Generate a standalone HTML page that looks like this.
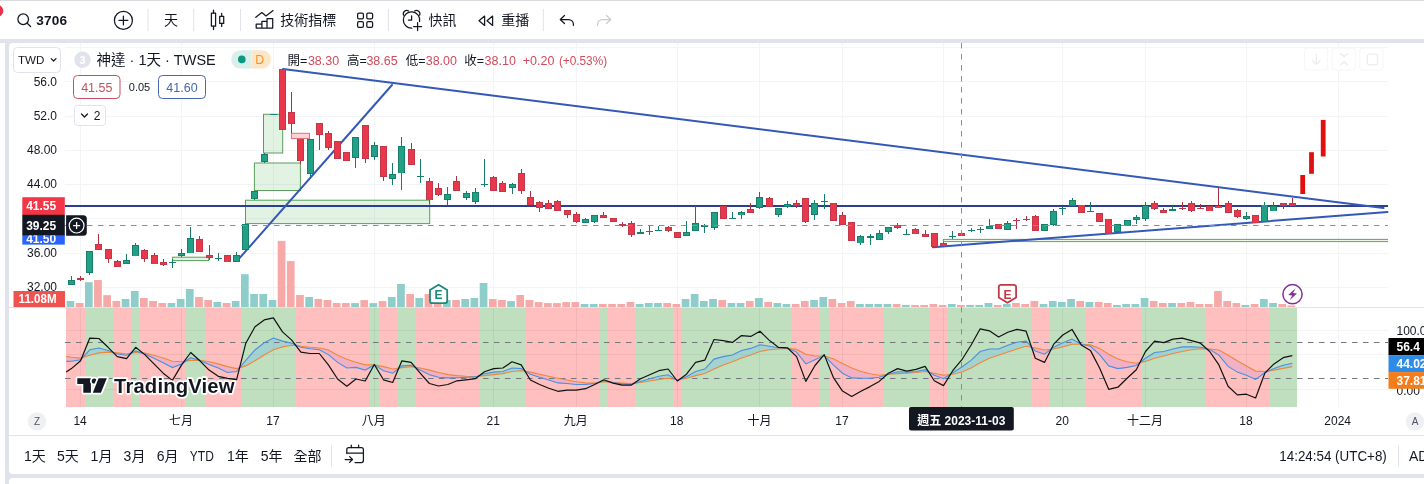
<!DOCTYPE html>
<html lang="zh-Hant"><head><meta charset="utf-8"><title>3706 神達 TradingView</title>
<style>
html,body{margin:0;padding:0;background:#fff;overflow:hidden}
svg{display:block}
text{font-family:"Liberation Sans","Noto Sans CJK TC",sans-serif;}
.ax{font-size:12px;fill:#131722}
.tb{font-size:14px;fill:#131722}
.ic{fill:none;stroke:#131722;stroke-width:1.25;stroke-linecap:round;stroke-linejoin:round}
</style></head><body>
<svg width="1424" height="484" viewBox="0 0 1424 484">
<rect x="0" y="0" width="1424" height="484" fill="#ffffff"/>
<rect x="0" y="0" width="1424" height="1" fill="#dadbde"/>
<rect x="0" y="39" width="1424" height="4" fill="#e0e3eb"/>
<rect x="5" y="43" width="4" height="441" fill="#e0e3eb"/>
<rect x="5" y="474" width="1419" height="4" fill="#e0e3eb"/>
<path d="M9 43h4a4 4 0 0 0-4 4z" fill="#e0e3eb"/>
<path d="M9 474h4a4 4 0 0 1-4-4z" fill="#e0e3eb"/>
<path d="M9 478h4a4 4 0 0 0-4 4z" fill="#e0e3eb"/>
<circle cx="-2.6" cy="10.9" r="5.9" fill="#e6324a"/>
<g stroke="#f3f4f6" stroke-width="1" shape-rendering="crispEdges">
<line x1="80.5" y1="43" x2="80.5" y2="407"/>
<line x1="181.5" y1="43" x2="181.5" y2="407"/>
<line x1="273.5" y1="43" x2="273.5" y2="407"/>
<line x1="374.5" y1="43" x2="374.5" y2="407"/>
<line x1="493.5" y1="43" x2="493.5" y2="407"/>
<line x1="576.5" y1="43" x2="576.5" y2="407"/>
<line x1="677.5" y1="43" x2="677.5" y2="407"/>
<line x1="759.5" y1="43" x2="759.5" y2="407"/>
<line x1="842.5" y1="43" x2="842.5" y2="407"/>
<line x1="943.5" y1="43" x2="943.5" y2="407"/>
<line x1="1062.5" y1="43" x2="1062.5" y2="407"/>
<line x1="1145.5" y1="43" x2="1145.5" y2="407"/>
<line x1="1246.5" y1="43" x2="1246.5" y2="407"/>
<line x1="1338.5" y1="43" x2="1338.5" y2="407"/>
<line x1="65" y1="47.5" x2="1388" y2="47.5"/>
<line x1="65" y1="81.5" x2="1388" y2="81.5"/>
<line x1="65" y1="116.5" x2="1388" y2="116.5"/>
<line x1="65" y1="150.5" x2="1388" y2="150.5"/>
<line x1="65" y1="184.5" x2="1388" y2="184.5"/>
<line x1="65" y1="218.5" x2="1388" y2="218.5"/>
<line x1="65" y1="253.5" x2="1388" y2="253.5"/>
<line x1="65" y1="287.5" x2="1388" y2="287.5"/>
<line x1="65" y1="330.5" x2="1388" y2="330.5"/>
<line x1="65" y1="354.5" x2="1388" y2="354.5"/>
<line x1="65" y1="389.5" x2="1388" y2="389.5"/>
</g>
<g shape-rendering="crispEdges">
<rect x="66.2" y="307.5" width="19.0" height="99.5" fill="#ffbfbf"/>
<rect x="85.2" y="307.5" width="27.5" height="99.5" fill="#bfdfbf"/>
<rect x="112.7" y="307.5" width="18.4" height="99.5" fill="#ffbfbf"/>
<rect x="131.1" y="307.5" width="9.2" height="99.5" fill="#bfdfbf"/>
<rect x="140.2" y="307.5" width="45.9" height="99.5" fill="#ffbfbf"/>
<rect x="186.2" y="307.5" width="18.4" height="99.5" fill="#bfdfbf"/>
<rect x="204.5" y="307.5" width="36.7" height="99.5" fill="#ffbfbf"/>
<rect x="241.2" y="307.5" width="55.1" height="99.5" fill="#bfdfbf"/>
<rect x="296.3" y="307.5" width="73.4" height="99.5" fill="#ffbfbf"/>
<rect x="369.8" y="307.5" width="9.2" height="99.5" fill="#bfdfbf"/>
<rect x="378.9" y="307.5" width="18.4" height="99.5" fill="#ffbfbf"/>
<rect x="397.3" y="307.5" width="18.4" height="99.5" fill="#bfdfbf"/>
<rect x="415.7" y="307.5" width="64.3" height="99.5" fill="#ffbfbf"/>
<rect x="479.9" y="307.5" width="45.9" height="99.5" fill="#bfdfbf"/>
<rect x="525.8" y="307.5" width="73.4" height="99.5" fill="#ffbfbf"/>
<rect x="599.2" y="307.5" width="9.2" height="99.5" fill="#bfdfbf"/>
<rect x="608.4" y="307.5" width="27.5" height="99.5" fill="#ffbfbf"/>
<rect x="636.0" y="307.5" width="36.7" height="99.5" fill="#bfdfbf"/>
<rect x="672.7" y="307.5" width="9.2" height="99.5" fill="#ffbfbf"/>
<rect x="681.9" y="307.5" width="110.2" height="99.5" fill="#bfdfbf"/>
<rect x="792.0" y="307.5" width="27.5" height="99.5" fill="#ffbfbf"/>
<rect x="819.6" y="307.5" width="9.2" height="99.5" fill="#bfdfbf"/>
<rect x="828.7" y="307.5" width="55.1" height="99.5" fill="#ffbfbf"/>
<rect x="883.8" y="307.5" width="45.9" height="99.5" fill="#bfdfbf"/>
<rect x="929.7" y="307.5" width="18.4" height="99.5" fill="#ffbfbf"/>
<rect x="948.1" y="307.5" width="82.6" height="99.5" fill="#bfdfbf"/>
<rect x="1030.7" y="307.5" width="18.4" height="99.5" fill="#ffbfbf"/>
<rect x="1049.1" y="307.5" width="36.7" height="99.5" fill="#bfdfbf"/>
<rect x="1085.8" y="307.5" width="55.1" height="99.5" fill="#ffbfbf"/>
<rect x="1140.9" y="307.5" width="64.3" height="99.5" fill="#bfdfbf"/>
<rect x="1205.1" y="307.5" width="64.3" height="99.5" fill="#ffbfbf"/>
<rect x="1269.4" y="307.5" width="27.5" height="99.5" fill="#bfdfbf"/>
</g>
<g stroke="#000" stroke-opacity="0.05" stroke-width="1" shape-rendering="crispEdges">
<line x1="80.5" y1="308" x2="80.5" y2="407"/>
<line x1="181.5" y1="308" x2="181.5" y2="407"/>
<line x1="273.5" y1="308" x2="273.5" y2="407"/>
<line x1="374.5" y1="308" x2="374.5" y2="407"/>
<line x1="493.5" y1="308" x2="493.5" y2="407"/>
<line x1="576.5" y1="308" x2="576.5" y2="407"/>
<line x1="677.5" y1="308" x2="677.5" y2="407"/>
<line x1="759.5" y1="308" x2="759.5" y2="407"/>
<line x1="842.5" y1="308" x2="842.5" y2="407"/>
<line x1="943.5" y1="308" x2="943.5" y2="407"/>
<line x1="1062.5" y1="308" x2="1062.5" y2="407"/>
<line x1="1145.5" y1="308" x2="1145.5" y2="407"/>
<line x1="1246.5" y1="308" x2="1246.5" y2="407"/>
<line x1="67" y1="330.5" x2="1297" y2="330.5"/>
<line x1="67" y1="354.5" x2="1297" y2="354.5"/>
<line x1="67" y1="389.5" x2="1297" y2="389.5"/>
</g>
<g>
<rect x="66.6" y="301.0" width="7.7" height="6.0" fill="#8fcdcb"/>
<rect x="75.8" y="303.0" width="7.7" height="4.0" fill="#f6a9a7"/>
<rect x="85.0" y="282.2" width="7.7" height="24.8" fill="#8fcdcb"/>
<rect x="94.1" y="280.0" width="7.7" height="27.0" fill="#f6a9a7"/>
<rect x="103.3" y="295.2" width="7.7" height="11.8" fill="#f6a9a7"/>
<rect x="112.5" y="301.0" width="7.7" height="6.0" fill="#f6a9a7"/>
<rect x="121.7" y="299.0" width="7.7" height="8.0" fill="#8fcdcb"/>
<rect x="130.9" y="291.0" width="7.7" height="16.0" fill="#8fcdcb"/>
<rect x="140.0" y="298.0" width="7.7" height="9.0" fill="#f6a9a7"/>
<rect x="149.2" y="301.0" width="7.7" height="6.0" fill="#f6a9a7"/>
<rect x="158.4" y="303.0" width="7.7" height="4.0" fill="#f6a9a7"/>
<rect x="167.6" y="303.0" width="7.7" height="4.0" fill="#8fcdcb"/>
<rect x="176.8" y="299.0" width="7.7" height="8.0" fill="#8fcdcb"/>
<rect x="185.9" y="289.0" width="7.7" height="18.0" fill="#8fcdcb"/>
<rect x="195.1" y="297.0" width="7.7" height="10.0" fill="#f6a9a7"/>
<rect x="204.3" y="300.0" width="7.7" height="7.0" fill="#f6a9a7"/>
<rect x="213.5" y="302.0" width="7.7" height="5.0" fill="#8fcdcb"/>
<rect x="222.7" y="303.0" width="7.7" height="4.0" fill="#f6a9a7"/>
<rect x="231.8" y="301.0" width="7.7" height="6.0" fill="#8fcdcb"/>
<rect x="241.0" y="274.2" width="7.7" height="32.8" fill="#8fcdcb"/>
<rect x="250.2" y="294.0" width="7.7" height="13.0" fill="#8fcdcb"/>
<rect x="259.4" y="294.0" width="7.7" height="13.0" fill="#8fcdcb"/>
<rect x="268.6" y="300.0" width="7.7" height="7.0" fill="#8fcdcb"/>
<rect x="277.7" y="240.9" width="7.7" height="66.1" fill="#f6a9a7"/>
<rect x="286.9" y="261.1" width="7.7" height="45.9" fill="#f6a9a7"/>
<rect x="296.1" y="295.0" width="7.7" height="12.0" fill="#f6a9a7"/>
<rect x="305.3" y="297.0" width="7.7" height="10.0" fill="#8fcdcb"/>
<rect x="314.5" y="299.0" width="7.7" height="8.0" fill="#f6a9a7"/>
<rect x="323.6" y="300.0" width="7.7" height="7.0" fill="#f6a9a7"/>
<rect x="332.8" y="303.0" width="7.7" height="4.0" fill="#f6a9a7"/>
<rect x="342.0" y="303.0" width="7.7" height="4.0" fill="#f6a9a7"/>
<rect x="351.2" y="303.1" width="7.7" height="3.9" fill="#8fcdcb"/>
<rect x="360.4" y="300.1" width="7.7" height="6.9" fill="#f6a9a7"/>
<rect x="369.5" y="303.1" width="7.7" height="3.9" fill="#8fcdcb"/>
<rect x="378.7" y="301.1" width="7.7" height="5.9" fill="#f6a9a7"/>
<rect x="387.9" y="297.0" width="7.7" height="10.0" fill="#8fcdcb"/>
<rect x="397.1" y="284.0" width="7.7" height="23.0" fill="#8fcdcb"/>
<rect x="406.3" y="294.0" width="7.7" height="13.0" fill="#f6a9a7"/>
<rect x="415.4" y="298.0" width="7.7" height="9.0" fill="#8fcdcb"/>
<rect x="424.6" y="294.0" width="7.7" height="13.0" fill="#f6a9a7"/>
<rect x="433.8" y="303.0" width="7.7" height="4.0" fill="#f6a9a7"/>
<rect x="443.0" y="300.0" width="7.7" height="7.0" fill="#8fcdcb"/>
<rect x="452.2" y="300.0" width="7.7" height="7.0" fill="#f6a9a7"/>
<rect x="461.3" y="299.0" width="7.7" height="8.0" fill="#8fcdcb"/>
<rect x="470.5" y="298.0" width="7.7" height="9.0" fill="#8fcdcb"/>
<rect x="479.7" y="283.0" width="7.7" height="24.0" fill="#8fcdcb"/>
<rect x="488.9" y="299.0" width="7.7" height="8.0" fill="#f6a9a7"/>
<rect x="498.1" y="300.0" width="7.7" height="7.0" fill="#f6a9a7"/>
<rect x="507.2" y="301.1" width="7.7" height="5.9" fill="#8fcdcb"/>
<rect x="516.4" y="295.0" width="7.7" height="12.0" fill="#f6a9a7"/>
<rect x="525.6" y="300.0" width="7.7" height="7.0" fill="#f6a9a7"/>
<rect x="534.8" y="302.1" width="7.7" height="4.9" fill="#f6a9a7"/>
<rect x="544.0" y="303.1" width="7.7" height="3.9" fill="#f6a9a7"/>
<rect x="553.1" y="303.1" width="7.7" height="3.9" fill="#f6a9a7"/>
<rect x="562.3" y="302.1" width="7.7" height="4.9" fill="#f6a9a7"/>
<rect x="571.5" y="302.1" width="7.7" height="4.9" fill="#f6a9a7"/>
<rect x="580.7" y="304.0" width="7.7" height="3.0" fill="#8fcdcb"/>
<rect x="589.9" y="304.0" width="7.7" height="3.0" fill="#8fcdcb"/>
<rect x="599.0" y="304.0" width="7.7" height="3.0" fill="#f6a9a7"/>
<rect x="608.2" y="304.0" width="7.7" height="3.0" fill="#f6a9a7"/>
<rect x="617.4" y="304.0" width="7.7" height="3.0" fill="#f6a9a7"/>
<rect x="626.6" y="302.0" width="7.7" height="5.0" fill="#f6a9a7"/>
<rect x="635.8" y="304.0" width="7.7" height="3.0" fill="#8fcdcb"/>
<rect x="644.9" y="303.0" width="7.7" height="4.0" fill="#8fcdcb"/>
<rect x="654.1" y="303.0" width="7.7" height="4.0" fill="#8fcdcb"/>
<rect x="663.3" y="303.0" width="7.7" height="4.0" fill="#f6a9a7"/>
<rect x="672.5" y="304.0" width="7.7" height="3.0" fill="#f6a9a7"/>
<rect x="681.7" y="299.0" width="7.7" height="8.0" fill="#8fcdcb"/>
<rect x="690.8" y="294.0" width="7.7" height="13.0" fill="#8fcdcb"/>
<rect x="700.0" y="301.0" width="7.7" height="6.0" fill="#8fcdcb"/>
<rect x="709.2" y="299.0" width="7.7" height="8.0" fill="#8fcdcb"/>
<rect x="718.4" y="300.0" width="7.7" height="7.0" fill="#f6a9a7"/>
<rect x="727.6" y="303.0" width="7.7" height="4.0" fill="#8fcdcb"/>
<rect x="736.7" y="303.0" width="7.7" height="4.0" fill="#8fcdcb"/>
<rect x="745.9" y="301.0" width="7.7" height="6.0" fill="#f6a9a7"/>
<rect x="755.1" y="298.0" width="7.7" height="9.0" fill="#8fcdcb"/>
<rect x="764.3" y="302.0" width="7.7" height="5.0" fill="#f6a9a7"/>
<rect x="773.5" y="303.0" width="7.7" height="4.0" fill="#8fcdcb"/>
<rect x="782.6" y="304.0" width="7.7" height="3.0" fill="#8fcdcb"/>
<rect x="791.8" y="304.0" width="7.7" height="3.0" fill="#f6a9a7"/>
<rect x="801.0" y="301.0" width="7.7" height="6.0" fill="#f6a9a7"/>
<rect x="810.2" y="300.0" width="7.7" height="7.0" fill="#8fcdcb"/>
<rect x="819.4" y="297.0" width="7.7" height="10.0" fill="#8fcdcb"/>
<rect x="828.5" y="299.0" width="7.7" height="8.0" fill="#f6a9a7"/>
<rect x="837.7" y="303.0" width="7.7" height="4.0" fill="#f6a9a7"/>
<rect x="846.9" y="301.0" width="7.7" height="6.0" fill="#f6a9a7"/>
<rect x="856.1" y="304.0" width="7.7" height="3.0" fill="#8fcdcb"/>
<rect x="865.3" y="304.0" width="7.7" height="3.0" fill="#8fcdcb"/>
<rect x="874.4" y="304.0" width="7.7" height="3.0" fill="#8fcdcb"/>
<rect x="883.6" y="304.0" width="7.7" height="3.0" fill="#8fcdcb"/>
<rect x="892.8" y="304.0" width="7.7" height="3.0" fill="#f6a9a7"/>
<rect x="902.0" y="305.0" width="7.7" height="2.0" fill="#8fcdcb"/>
<rect x="911.2" y="305.0" width="7.7" height="2.0" fill="#f6a9a7"/>
<rect x="920.3" y="305.0" width="7.7" height="2.0" fill="#f6a9a7"/>
<rect x="929.5" y="304.0" width="7.7" height="3.0" fill="#f6a9a7"/>
<rect x="938.7" y="305.0" width="7.7" height="2.0" fill="#f6a9a7"/>
<rect x="947.9" y="304.0" width="7.7" height="3.0" fill="#8fcdcb"/>
<rect x="957.1" y="305.0" width="7.7" height="2.0" fill="#f6a9a7"/>
<rect x="966.2" y="305.0" width="7.7" height="2.0" fill="#8fcdcb"/>
<rect x="975.4" y="305.0" width="7.7" height="2.0" fill="#8fcdcb"/>
<rect x="984.6" y="303.0" width="7.7" height="4.0" fill="#8fcdcb"/>
<rect x="993.8" y="305.0" width="7.7" height="2.0" fill="#f6a9a7"/>
<rect x="1003.0" y="304.0" width="7.7" height="3.0" fill="#8fcdcb"/>
<rect x="1012.1" y="303.0" width="7.7" height="4.0" fill="#f6a9a7"/>
<rect x="1021.3" y="304.0" width="7.7" height="3.0" fill="#f6a9a7"/>
<rect x="1030.5" y="301.0" width="7.7" height="6.0" fill="#f6a9a7"/>
<rect x="1039.7" y="304.0" width="7.7" height="3.0" fill="#8fcdcb"/>
<rect x="1048.9" y="301.0" width="7.7" height="6.0" fill="#8fcdcb"/>
<rect x="1058.0" y="302.0" width="7.7" height="5.0" fill="#8fcdcb"/>
<rect x="1067.2" y="299.0" width="7.7" height="8.0" fill="#8fcdcb"/>
<rect x="1076.4" y="301.0" width="7.7" height="6.0" fill="#f6a9a7"/>
<rect x="1085.6" y="302.0" width="7.7" height="5.0" fill="#8fcdcb"/>
<rect x="1094.8" y="302.0" width="7.7" height="5.0" fill="#f6a9a7"/>
<rect x="1103.9" y="303.0" width="7.7" height="4.0" fill="#f6a9a7"/>
<rect x="1113.1" y="305.0" width="7.7" height="2.0" fill="#8fcdcb"/>
<rect x="1122.3" y="304.0" width="7.7" height="3.0" fill="#8fcdcb"/>
<rect x="1131.5" y="304.0" width="7.7" height="3.0" fill="#8fcdcb"/>
<rect x="1140.7" y="298.0" width="7.7" height="9.0" fill="#8fcdcb"/>
<rect x="1149.8" y="301.0" width="7.7" height="6.0" fill="#f6a9a7"/>
<rect x="1159.0" y="303.0" width="7.7" height="4.0" fill="#f6a9a7"/>
<rect x="1168.2" y="303.0" width="7.7" height="4.0" fill="#8fcdcb"/>
<rect x="1177.4" y="303.0" width="7.7" height="4.0" fill="#f6a9a7"/>
<rect x="1186.6" y="302.0" width="7.7" height="5.0" fill="#f6a9a7"/>
<rect x="1195.7" y="304.0" width="7.7" height="3.0" fill="#f6a9a7"/>
<rect x="1204.9" y="304.0" width="7.7" height="3.0" fill="#f6a9a7"/>
<rect x="1214.1" y="291.0" width="7.7" height="16.0" fill="#f6a9a7"/>
<rect x="1223.3" y="301.0" width="7.7" height="6.0" fill="#f6a9a7"/>
<rect x="1232.5" y="303.0" width="7.7" height="4.0" fill="#f6a9a7"/>
<rect x="1241.6" y="305.0" width="7.7" height="2.0" fill="#8fcdcb"/>
<rect x="1250.8" y="304.0" width="7.7" height="3.0" fill="#f6a9a7"/>
<rect x="1260.0" y="299.0" width="7.7" height="8.0" fill="#8fcdcb"/>
<rect x="1269.2" y="303.0" width="7.7" height="4.0" fill="#8fcdcb"/>
<rect x="1278.4" y="304.0" width="7.7" height="3.0" fill="#f6a9a7"/>
<rect x="1287.5" y="305.5" width="7.7" height="1.5" fill="#f6a9a7"/>
</g>
<rect x="9" y="307" width="1415" height="1" fill="#e0e3eb"/>
<rect x="245.5" y="200.2" width="184.2" height="23.4" fill="#4caf50" fill-opacity="0.16" stroke="#5b9e5b" stroke-width="1"/>
<rect x="254.4" y="163" width="46.0" height="27.5" fill="#4caf50" fill-opacity="0.16" stroke="#5b9e5b" stroke-width="1"/>
<rect x="263.5" y="114.3" width="19.2" height="38.7" fill="#4caf50" fill-opacity="0.16" stroke="#5b9e5b" stroke-width="1"/>
<rect x="291.4" y="133.3" width="18.1" height="5.2" fill="#f23645" fill-opacity="0.22" stroke="#e0737a" stroke-width="1"/>
<rect x="172.6" y="257.2" width="36.1" height="3.4" fill="#4caf50" fill-opacity="0.16" stroke="#5b9e5b" stroke-width="1"/>
<rect x="943.4" y="239.3" width="444.6" height="2.2" fill="#eef6e4"/>
<line x1="943.4" y1="239.4" x2="1388" y2="239.4" stroke="#4f984f" stroke-width="0.9"/>
<line x1="943.4" y1="241.6" x2="1388" y2="241.6" stroke="#4f984f" stroke-width="0.9"/>
<line x1="943.4" y1="239" x2="943.4" y2="242" stroke="#4f984f" stroke-width="0.9"/>
<line x1="65" y1="206" x2="1388" y2="206" stroke="#2a3f8f" stroke-width="2"/>
<g stroke="#3458b8" stroke-width="2" stroke-linecap="round" fill="none">
<line x1="283" y1="69" x2="1383.5" y2="208"/>
<line x1="932.9" y1="247.2" x2="1387.5" y2="212"/>
<line x1="240" y1="257.6" x2="392" y2="85"/>
</g>
<g shape-rendering="crispEdges">
<rect x="71" y="276.4" width="1" height="8.3" fill="#1a7a68"/>
<rect x="68" y="280.2" width="7" height="4.5" fill="#17806b"/>
<rect x="68.8" y="280.9" width="5.4" height="3.1" fill="#22a085"/>
<rect x="80" y="276.4" width="1" height="4.8" fill="#a8323f"/>
<rect x="77" y="277.9" width="7" height="1.6" fill="#c0384a"/>
<rect x="89" y="251.2" width="1" height="24.2" fill="#1a7a68"/>
<rect x="86" y="251.2" width="7" height="21.5" fill="#17806b"/>
<rect x="86.8" y="251.9" width="5.4" height="20.1" fill="#22a085"/>
<rect x="98" y="234.1" width="1" height="15.5" fill="#a8323f"/>
<rect x="95" y="244.0" width="7" height="5.6" fill="#c0384a"/>
<rect x="95.8" y="244.7" width="5.4" height="4.2" fill="#e9384c"/>
<rect x="108" y="249.2" width="1" height="13.4" fill="#a8323f"/>
<rect x="105" y="249.2" width="7" height="9.7" fill="#c0384a"/>
<rect x="105.8" y="249.9" width="5.4" height="8.3" fill="#e9384c"/>
<rect x="117" y="259.9" width="1" height="6.6" fill="#a8323f"/>
<rect x="114" y="261.1" width="7" height="5.4" fill="#c0384a"/>
<rect x="114.8" y="261.8" width="5.4" height="4.0" fill="#e9384c"/>
<rect x="126" y="254.1" width="1" height="9.5" fill="#1a7a68"/>
<rect x="123" y="260.1" width="7" height="3.5" fill="#17806b"/>
<rect x="123.8" y="260.8" width="5.4" height="2.1" fill="#22a085"/>
<rect x="135" y="243.0" width="1" height="13.4" fill="#1a7a68"/>
<rect x="132" y="245.0" width="7" height="11.4" fill="#17806b"/>
<rect x="132.8" y="245.7" width="5.4" height="10.0" fill="#22a085"/>
<rect x="144" y="249.0" width="1" height="12.5" fill="#a8323f"/>
<rect x="141" y="250.2" width="7" height="8.7" fill="#c0384a"/>
<rect x="141.8" y="250.9" width="5.4" height="7.3" fill="#e9384c"/>
<rect x="154" y="252.9" width="1" height="11.5" fill="#a8323f"/>
<rect x="151" y="254.9" width="7" height="9.5" fill="#c0384a"/>
<rect x="151.8" y="255.6" width="5.4" height="8.1" fill="#e9384c"/>
<rect x="163" y="259.0" width="1" height="6.7" fill="#a8323f"/>
<rect x="160" y="262.0" width="7" height="2.6" fill="#c0384a"/>
<rect x="160.8" y="262.7" width="5.4" height="1.2" fill="#e9384c"/>
<rect x="172" y="258.9" width="1" height="8.8" fill="#1a7a68"/>
<rect x="169" y="262.0" width="7" height="1.0" fill="#17806b"/>
<rect x="181" y="249.2" width="1" height="8.2" fill="#1a7a68"/>
<rect x="178" y="253.3" width="7" height="2.5" fill="#17806b"/>
<rect x="178.8" y="254.0" width="5.4" height="1.1" fill="#22a085"/>
<rect x="190" y="227.3" width="1" height="26.0" fill="#1a7a68"/>
<rect x="187" y="238.2" width="7" height="15.1" fill="#17806b"/>
<rect x="187.8" y="238.9" width="5.4" height="13.7" fill="#22a085"/>
<rect x="199" y="236.1" width="1" height="15.5" fill="#a8323f"/>
<rect x="196" y="239.2" width="7" height="12.4" fill="#c0384a"/>
<rect x="196.8" y="239.9" width="5.4" height="11.0" fill="#e9384c"/>
<rect x="209" y="245.0" width="1" height="14.9" fill="#a8323f"/>
<rect x="206" y="255.4" width="7" height="2.4" fill="#c0384a"/>
<rect x="206.8" y="256.1" width="5.4" height="1.0" fill="#e9384c"/>
<rect x="218" y="253.3" width="1" height="8.0" fill="#1a7a68"/>
<rect x="215" y="258.2" width="7" height="1.0" fill="#17806b"/>
<rect x="227" y="255.4" width="1" height="7.0" fill="#a8323f"/>
<rect x="224" y="255.4" width="7" height="7.0" fill="#c0384a"/>
<rect x="224.8" y="256.1" width="5.4" height="5.6" fill="#e9384c"/>
<rect x="236" y="252.0" width="1" height="9.5" fill="#1a7a68"/>
<rect x="233" y="255.4" width="7" height="6.1" fill="#17806b"/>
<rect x="233.8" y="256.1" width="5.4" height="4.7" fill="#22a085"/>
<rect x="245" y="224.4" width="1" height="25.2" fill="#1a7a68"/>
<rect x="242" y="224.4" width="7" height="25.2" fill="#17806b"/>
<rect x="242.8" y="225.1" width="5.4" height="23.8" fill="#22a085"/>
<rect x="254" y="190.5" width="1" height="9.7" fill="#1a7a68"/>
<rect x="251" y="191.4" width="7" height="7.4" fill="#17806b"/>
<rect x="251.8" y="192.1" width="5.4" height="6.0" fill="#22a085"/>
<rect x="264" y="153.0" width="1" height="10.0" fill="#1a7a68"/>
<rect x="261" y="154.2" width="7" height="7.4" fill="#17806b"/>
<rect x="261.8" y="154.9" width="5.4" height="6.0" fill="#22a085"/>
<rect x="273" y="113.8" width="1" height="1.0" fill="#1a7a68"/>
<rect x="270" y="113.8" width="7" height="1.0" fill="#17806b"/>
<rect x="282" y="69.3" width="1" height="60.5" fill="#a8323f"/>
<rect x="279" y="69.3" width="7" height="60.5" fill="#c0384a"/>
<rect x="279.8" y="70.0" width="5.4" height="59.1" fill="#e9384c"/>
<rect x="291" y="92.0" width="1" height="41.0" fill="#a8323f"/>
<rect x="288" y="112.0" width="7" height="11.6" fill="#c0384a"/>
<rect x="288.8" y="112.7" width="5.4" height="10.2" fill="#e9384c"/>
<rect x="300" y="138.5" width="1" height="25.5" fill="#a8323f"/>
<rect x="297" y="138.5" width="7" height="22.5" fill="#c0384a"/>
<rect x="297.8" y="139.2" width="5.4" height="21.1" fill="#e9384c"/>
<rect x="310" y="139.3" width="1" height="38.6" fill="#1a7a68"/>
<rect x="307" y="139.3" width="7" height="34.5" fill="#17806b"/>
<rect x="307.8" y="140.0" width="5.4" height="33.1" fill="#22a085"/>
<rect x="319" y="123.4" width="1" height="26.4" fill="#a8323f"/>
<rect x="316" y="123.4" width="7" height="11.4" fill="#c0384a"/>
<rect x="316.8" y="124.1" width="5.4" height="10.0" fill="#e9384c"/>
<rect x="328" y="131.3" width="1" height="18.2" fill="#a8323f"/>
<rect x="325" y="133.2" width="7" height="14.5" fill="#c0384a"/>
<rect x="325.8" y="133.9" width="5.4" height="13.1" fill="#e9384c"/>
<rect x="337" y="141.3" width="1" height="17.2" fill="#a8323f"/>
<rect x="334" y="141.3" width="7" height="17.2" fill="#c0384a"/>
<rect x="334.8" y="142.0" width="5.4" height="15.8" fill="#e9384c"/>
<rect x="346" y="152.2" width="1" height="8.4" fill="#a8323f"/>
<rect x="343" y="152.2" width="7" height="8.4" fill="#c0384a"/>
<rect x="343.8" y="152.9" width="5.4" height="7.0" fill="#e9384c"/>
<rect x="355" y="137.1" width="1" height="30.7" fill="#1a7a68"/>
<rect x="352" y="137.1" width="7" height="20.5" fill="#17806b"/>
<rect x="352.8" y="137.8" width="5.4" height="19.1" fill="#22a085"/>
<rect x="365" y="125.0" width="1" height="37.6" fill="#a8323f"/>
<rect x="362" y="125.0" width="7" height="33.6" fill="#c0384a"/>
<rect x="362.8" y="125.7" width="5.4" height="32.2" fill="#e9384c"/>
<rect x="374" y="142.0" width="1" height="17.5" fill="#1a7a68"/>
<rect x="371" y="145.0" width="7" height="11.5" fill="#17806b"/>
<rect x="371.8" y="145.7" width="5.4" height="10.1" fill="#22a085"/>
<rect x="383" y="146.1" width="1" height="34.5" fill="#a8323f"/>
<rect x="380" y="146.1" width="7" height="30.4" fill="#c0384a"/>
<rect x="380.8" y="146.8" width="5.4" height="29.0" fill="#e9384c"/>
<rect x="392" y="163.0" width="1" height="21.7" fill="#1a7a68"/>
<rect x="389" y="174.0" width="7" height="4.5" fill="#17806b"/>
<rect x="389.8" y="174.7" width="5.4" height="3.1" fill="#22a085"/>
<rect x="401" y="137.2" width="1" height="52.7" fill="#1a7a68"/>
<rect x="398" y="146.1" width="7" height="27.3" fill="#17806b"/>
<rect x="398.8" y="146.8" width="5.4" height="25.9" fill="#22a085"/>
<rect x="411" y="143.0" width="1" height="21.5" fill="#a8323f"/>
<rect x="408" y="149.2" width="7" height="15.3" fill="#c0384a"/>
<rect x="408.8" y="149.9" width="5.4" height="13.9" fill="#e9384c"/>
<rect x="420" y="158.9" width="1" height="23.8" fill="#1a7a68"/>
<rect x="417" y="175.9" width="7" height="1.0" fill="#17806b"/>
<rect x="429" y="178.1" width="1" height="26.3" fill="#a8323f"/>
<rect x="426" y="181.2" width="7" height="19.0" fill="#c0384a"/>
<rect x="426.8" y="181.9" width="5.4" height="17.6" fill="#e9384c"/>
<rect x="438" y="183.1" width="1" height="13.0" fill="#a8323f"/>
<rect x="435" y="188.3" width="7" height="6.4" fill="#c0384a"/>
<rect x="435.8" y="189.0" width="5.4" height="5.0" fill="#e9384c"/>
<rect x="447" y="187.2" width="1" height="18.2" fill="#1a7a68"/>
<rect x="444" y="194.2" width="7" height="5.4" fill="#17806b"/>
<rect x="444.8" y="194.9" width="5.4" height="4.0" fill="#22a085"/>
<rect x="456" y="175.9" width="1" height="14.6" fill="#a8323f"/>
<rect x="453" y="181.0" width="7" height="9.5" fill="#c0384a"/>
<rect x="453.8" y="181.7" width="5.4" height="8.1" fill="#e9384c"/>
<rect x="466" y="190.9" width="1" height="8.9" fill="#1a7a68"/>
<rect x="463" y="193.2" width="7" height="4.6" fill="#17806b"/>
<rect x="463.8" y="193.9" width="5.4" height="3.2" fill="#22a085"/>
<rect x="475" y="188.3" width="1" height="15.4" fill="#1a7a68"/>
<rect x="472" y="192.0" width="7" height="9.7" fill="#17806b"/>
<rect x="472.8" y="192.7" width="5.4" height="8.3" fill="#22a085"/>
<rect x="484" y="159.1" width="1" height="28.1" fill="#1a7a68"/>
<rect x="481" y="184.1" width="7" height="1.1" fill="#17806b"/>
<rect x="493" y="176.0" width="1" height="14.5" fill="#a8323f"/>
<rect x="490" y="177.1" width="7" height="13.4" fill="#c0384a"/>
<rect x="490.8" y="177.8" width="5.4" height="12.0" fill="#e9384c"/>
<rect x="502" y="181.0" width="1" height="10.6" fill="#a8323f"/>
<rect x="499" y="183.2" width="7" height="8.4" fill="#c0384a"/>
<rect x="499.8" y="183.9" width="5.4" height="7.0" fill="#e9384c"/>
<rect x="512" y="182.9" width="1" height="10.8" fill="#1a7a68"/>
<rect x="509" y="184.3" width="7" height="3.3" fill="#17806b"/>
<rect x="509.8" y="185.0" width="5.4" height="1.9" fill="#22a085"/>
<rect x="521" y="169.3" width="1" height="24.4" fill="#a8323f"/>
<rect x="518" y="173.0" width="7" height="17.8" fill="#c0384a"/>
<rect x="518.8" y="173.7" width="5.4" height="16.4" fill="#e9384c"/>
<rect x="530" y="191.4" width="1" height="14.0" fill="#a8323f"/>
<rect x="527" y="197.2" width="7" height="8.2" fill="#c0384a"/>
<rect x="527.8" y="197.9" width="5.4" height="6.8" fill="#e9384c"/>
<rect x="539" y="200.9" width="1" height="10.7" fill="#a8323f"/>
<rect x="536" y="202.3" width="7" height="5.2" fill="#c0384a"/>
<rect x="536.8" y="203.0" width="5.4" height="3.8" fill="#e9384c"/>
<rect x="548" y="200.3" width="1" height="8.2" fill="#a8323f"/>
<rect x="545" y="203.4" width="7" height="5.1" fill="#c0384a"/>
<rect x="545.8" y="204.1" width="5.4" height="3.7" fill="#e9384c"/>
<rect x="557" y="200.3" width="1" height="10.3" fill="#a8323f"/>
<rect x="554" y="201.3" width="7" height="9.3" fill="#c0384a"/>
<rect x="554.8" y="202.0" width="5.4" height="7.9" fill="#e9384c"/>
<rect x="567" y="210.2" width="1" height="7.6" fill="#a8323f"/>
<rect x="564" y="210.2" width="7" height="4.5" fill="#c0384a"/>
<rect x="564.8" y="210.9" width="5.4" height="3.1" fill="#e9384c"/>
<rect x="576" y="212.3" width="1" height="10.3" fill="#a8323f"/>
<rect x="573" y="214.3" width="7" height="7.3" fill="#c0384a"/>
<rect x="573.8" y="215.0" width="5.4" height="5.9" fill="#e9384c"/>
<rect x="585" y="218.3" width="1" height="4.3" fill="#1a7a68"/>
<rect x="582" y="219.3" width="7" height="3.3" fill="#17806b"/>
<rect x="582.8" y="220.0" width="5.4" height="1.9" fill="#22a085"/>
<rect x="594" y="215.4" width="1" height="7.6" fill="#1a7a68"/>
<rect x="591" y="215.4" width="7" height="6.2" fill="#17806b"/>
<rect x="591.8" y="216.1" width="5.4" height="4.8" fill="#22a085"/>
<rect x="603" y="212.1" width="1" height="5.7" fill="#a8323f"/>
<rect x="600" y="214.9" width="7" height="2.9" fill="#c0384a"/>
<rect x="600.8" y="215.6" width="5.4" height="1.5" fill="#e9384c"/>
<rect x="613" y="218.3" width="1" height="3.3" fill="#a8323f"/>
<rect x="610" y="218.3" width="7" height="3.3" fill="#c0384a"/>
<rect x="610.8" y="219.0" width="5.4" height="1.9" fill="#e9384c"/>
<rect x="622" y="222.0" width="1" height="4.7" fill="#a8323f"/>
<rect x="619" y="224.2" width="7" height="1.5" fill="#c0384a"/>
<rect x="631" y="220.9" width="1" height="15.9" fill="#a8323f"/>
<rect x="628" y="223.2" width="7" height="11.6" fill="#c0384a"/>
<rect x="628.8" y="223.9" width="5.4" height="10.2" fill="#e9384c"/>
<rect x="640" y="229.2" width="1" height="4.5" fill="#1a7a68"/>
<rect x="637" y="232.3" width="7" height="1.4" fill="#17806b"/>
<rect x="649" y="225.1" width="1" height="9.7" fill="#1a7a68"/>
<rect x="646" y="230.9" width="7" height="1.0" fill="#17806b"/>
<rect x="658" y="226.1" width="1" height="4.5" fill="#1a7a68"/>
<rect x="655" y="229.8" width="7" height="1.0" fill="#17806b"/>
<rect x="668" y="225.7" width="1" height="6.0" fill="#a8323f"/>
<rect x="665" y="227.1" width="7" height="3.8" fill="#c0384a"/>
<rect x="665.8" y="227.8" width="5.4" height="2.4" fill="#e9384c"/>
<rect x="677" y="232.3" width="1" height="5.6" fill="#a8323f"/>
<rect x="674" y="232.3" width="7" height="5.6" fill="#c0384a"/>
<rect x="674.8" y="233.0" width="5.4" height="4.2" fill="#e9384c"/>
<rect x="686" y="221.1" width="1" height="14.7" fill="#1a7a68"/>
<rect x="683" y="232.3" width="7" height="3.5" fill="#17806b"/>
<rect x="683.8" y="233.0" width="5.4" height="2.1" fill="#22a085"/>
<rect x="695" y="205.9" width="1" height="24.7" fill="#1a7a68"/>
<rect x="692" y="223.2" width="7" height="7.4" fill="#17806b"/>
<rect x="692.8" y="223.9" width="5.4" height="6.0" fill="#22a085"/>
<rect x="704" y="224.0" width="1" height="8.7" fill="#1a7a68"/>
<rect x="701" y="225.3" width="7" height="1.2" fill="#17806b"/>
<rect x="714" y="212.1" width="1" height="17.5" fill="#1a7a68"/>
<rect x="711" y="212.1" width="7" height="15.7" fill="#17806b"/>
<rect x="711.8" y="212.8" width="5.4" height="14.3" fill="#22a085"/>
<rect x="723" y="205.9" width="1" height="12.6" fill="#a8323f"/>
<rect x="720" y="205.9" width="7" height="12.6" fill="#c0384a"/>
<rect x="720.8" y="206.6" width="5.4" height="11.2" fill="#e9384c"/>
<rect x="732" y="212.3" width="1" height="6.6" fill="#1a7a68"/>
<rect x="729" y="217.8" width="7" height="1.1" fill="#17806b"/>
<rect x="741" y="211.0" width="1" height="7.9" fill="#1a7a68"/>
<rect x="738" y="212.3" width="7" height="3.1" fill="#17806b"/>
<rect x="738.8" y="213.0" width="5.4" height="1.7" fill="#22a085"/>
<rect x="750" y="203.4" width="1" height="9.3" fill="#a8323f"/>
<rect x="747" y="209.2" width="7" height="3.5" fill="#c0384a"/>
<rect x="747.8" y="209.9" width="5.4" height="2.1" fill="#e9384c"/>
<rect x="759" y="192.0" width="1" height="17.0" fill="#1a7a68"/>
<rect x="756" y="197.2" width="7" height="10.7" fill="#17806b"/>
<rect x="756.8" y="197.9" width="5.4" height="9.3" fill="#22a085"/>
<rect x="769" y="197.2" width="1" height="9.3" fill="#a8323f"/>
<rect x="766" y="198.2" width="7" height="8.3" fill="#c0384a"/>
<rect x="766.8" y="198.9" width="5.4" height="6.9" fill="#e9384c"/>
<rect x="778" y="208.1" width="1" height="8.7" fill="#1a7a68"/>
<rect x="775" y="208.1" width="7" height="6.6" fill="#17806b"/>
<rect x="775.8" y="208.8" width="5.4" height="5.2" fill="#22a085"/>
<rect x="787" y="201.3" width="1" height="6.6" fill="#1a7a68"/>
<rect x="784" y="204.0" width="7" height="2.5" fill="#17806b"/>
<rect x="784.8" y="204.7" width="5.4" height="1.1" fill="#22a085"/>
<rect x="796" y="200.3" width="1" height="7.2" fill="#a8323f"/>
<rect x="793" y="203.0" width="7" height="3.1" fill="#c0384a"/>
<rect x="793.8" y="203.7" width="5.4" height="1.7" fill="#e9384c"/>
<rect x="805" y="198.2" width="1" height="24.4" fill="#a8323f"/>
<rect x="802" y="198.2" width="7" height="23.4" fill="#c0384a"/>
<rect x="802.8" y="198.9" width="5.4" height="22.0" fill="#e9384c"/>
<rect x="814" y="200.3" width="1" height="19.6" fill="#1a7a68"/>
<rect x="811" y="203.4" width="7" height="11.3" fill="#17806b"/>
<rect x="811.8" y="204.1" width="5.4" height="9.9" fill="#22a085"/>
<rect x="824" y="194.1" width="1" height="14.9" fill="#1a7a68"/>
<rect x="821" y="201.3" width="7" height="1.0" fill="#17806b"/>
<rect x="833" y="203.0" width="1" height="17.5" fill="#a8323f"/>
<rect x="830" y="203.0" width="7" height="17.5" fill="#c0384a"/>
<rect x="830.8" y="203.7" width="5.4" height="16.1" fill="#e9384c"/>
<rect x="842" y="212.1" width="1" height="12.6" fill="#a8323f"/>
<rect x="839" y="214.9" width="7" height="9.8" fill="#c0384a"/>
<rect x="839.8" y="215.6" width="5.4" height="8.4" fill="#e9384c"/>
<rect x="851" y="222.0" width="1" height="18.6" fill="#a8323f"/>
<rect x="848" y="222.0" width="7" height="18.6" fill="#c0384a"/>
<rect x="848.8" y="222.7" width="5.4" height="17.2" fill="#e9384c"/>
<rect x="860" y="235.0" width="1" height="9.7" fill="#1a7a68"/>
<rect x="857" y="236.4" width="7" height="6.8" fill="#17806b"/>
<rect x="857.8" y="237.1" width="5.4" height="5.4" fill="#22a085"/>
<rect x="870" y="234.4" width="1" height="10.3" fill="#1a7a68"/>
<rect x="867" y="236.4" width="7" height="1.7" fill="#17806b"/>
<rect x="879" y="230.2" width="1" height="9.3" fill="#1a7a68"/>
<rect x="876" y="232.9" width="7" height="6.6" fill="#17806b"/>
<rect x="876.8" y="233.6" width="5.4" height="5.2" fill="#22a085"/>
<rect x="888" y="227.1" width="1" height="6.6" fill="#1a7a68"/>
<rect x="885" y="227.1" width="7" height="4.6" fill="#17806b"/>
<rect x="885.8" y="227.8" width="5.4" height="3.2" fill="#22a085"/>
<rect x="897" y="223.0" width="1" height="5.8" fill="#a8323f"/>
<rect x="894" y="224.7" width="7" height="3.1" fill="#c0384a"/>
<rect x="894.8" y="225.4" width="5.4" height="1.7" fill="#e9384c"/>
<rect x="906" y="228.8" width="1" height="5.8" fill="#1a7a68"/>
<rect x="903" y="233.7" width="7" height="1.0" fill="#17806b"/>
<rect x="915" y="227.8" width="1" height="6.6" fill="#a8323f"/>
<rect x="912" y="229.2" width="7" height="5.2" fill="#c0384a"/>
<rect x="912.8" y="229.9" width="5.4" height="3.8" fill="#e9384c"/>
<rect x="925" y="230.2" width="1" height="6.4" fill="#a8323f"/>
<rect x="922" y="234.0" width="7" height="2.6" fill="#c0384a"/>
<rect x="922.8" y="234.7" width="5.4" height="1.2" fill="#e9384c"/>
<rect x="934" y="232.9" width="1" height="13.9" fill="#a8323f"/>
<rect x="931" y="232.9" width="7" height="13.9" fill="#c0384a"/>
<rect x="931.8" y="233.6" width="5.4" height="12.5" fill="#e9384c"/>
<rect x="943" y="242.2" width="1" height="4.1" fill="#a8323f"/>
<rect x="940" y="243.2" width="7" height="3.1" fill="#c0384a"/>
<rect x="940.8" y="243.9" width="5.4" height="1.7" fill="#e9384c"/>
<rect x="952" y="231.3" width="1" height="7.6" fill="#1a7a68"/>
<rect x="949" y="236.0" width="7" height="1.0" fill="#17806b"/>
<rect x="961" y="230.9" width="1" height="4.9" fill="#a8323f"/>
<rect x="958" y="232.9" width="7" height="2.9" fill="#c0384a"/>
<rect x="958.8" y="233.6" width="5.4" height="1.5" fill="#e9384c"/>
<rect x="971" y="227.8" width="1" height="4.5" fill="#1a7a68"/>
<rect x="968" y="229.8" width="7" height="1.0" fill="#17806b"/>
<rect x="980" y="227.1" width="1" height="5.6" fill="#1a7a68"/>
<rect x="977" y="228.8" width="7" height="1.0" fill="#17806b"/>
<rect x="989" y="218.9" width="1" height="9.7" fill="#1a7a68"/>
<rect x="986" y="226.1" width="7" height="2.5" fill="#17806b"/>
<rect x="986.8" y="226.8" width="5.4" height="1.1" fill="#22a085"/>
<rect x="998" y="224.2" width="1" height="4.4" fill="#a8323f"/>
<rect x="995" y="224.2" width="7" height="4.4" fill="#c0384a"/>
<rect x="995.8" y="224.9" width="5.4" height="3.0" fill="#e9384c"/>
<rect x="1007" y="221.4" width="1" height="8.2" fill="#1a7a68"/>
<rect x="1004" y="223.2" width="7" height="6.4" fill="#17806b"/>
<rect x="1004.8" y="223.9" width="5.4" height="5.0" fill="#22a085"/>
<rect x="1016" y="217.8" width="1" height="10.8" fill="#a8323f"/>
<rect x="1013" y="219.9" width="7" height="1.5" fill="#c0384a"/>
<rect x="1026" y="215.8" width="1" height="5.1" fill="#a8323f"/>
<rect x="1023" y="218.9" width="7" height="1.0" fill="#c0384a"/>
<rect x="1035" y="214.7" width="1" height="16.2" fill="#a8323f"/>
<rect x="1032" y="216.2" width="7" height="14.7" fill="#c0384a"/>
<rect x="1032.8" y="216.9" width="5.4" height="13.3" fill="#e9384c"/>
<rect x="1044" y="224.2" width="1" height="6.4" fill="#1a7a68"/>
<rect x="1041" y="224.2" width="7" height="6.4" fill="#17806b"/>
<rect x="1041.8" y="224.9" width="5.4" height="5.0" fill="#22a085"/>
<rect x="1053" y="209.2" width="1" height="16.9" fill="#1a7a68"/>
<rect x="1050" y="211.2" width="7" height="13.5" fill="#17806b"/>
<rect x="1050.8" y="211.9" width="5.4" height="12.1" fill="#22a085"/>
<rect x="1062" y="206.5" width="1" height="8.0" fill="#1a7a68"/>
<rect x="1059" y="208.0" width="7" height="1.3" fill="#17806b"/>
<rect x="1072" y="197.9" width="1" height="7.7" fill="#1a7a68"/>
<rect x="1069" y="200.0" width="7" height="5.6" fill="#17806b"/>
<rect x="1069.8" y="200.7" width="5.4" height="4.2" fill="#22a085"/>
<rect x="1081" y="204.5" width="1" height="8.3" fill="#a8323f"/>
<rect x="1078" y="204.5" width="7" height="8.3" fill="#c0384a"/>
<rect x="1078.8" y="205.2" width="5.4" height="6.9" fill="#e9384c"/>
<rect x="1090" y="202.0" width="1" height="9.9" fill="#1a7a68"/>
<rect x="1087" y="210.9" width="7" height="1.0" fill="#17806b"/>
<rect x="1099" y="213.0" width="1" height="8.6" fill="#a8323f"/>
<rect x="1096" y="213.0" width="7" height="8.6" fill="#c0384a"/>
<rect x="1096.8" y="213.7" width="5.4" height="7.2" fill="#e9384c"/>
<rect x="1108" y="218.5" width="1" height="15.5" fill="#a8323f"/>
<rect x="1105" y="218.5" width="7" height="15.5" fill="#c0384a"/>
<rect x="1105.8" y="219.2" width="5.4" height="14.1" fill="#e9384c"/>
<rect x="1117" y="224.3" width="1" height="7.7" fill="#1a7a68"/>
<rect x="1114" y="224.3" width="7" height="7.7" fill="#17806b"/>
<rect x="1114.8" y="225.0" width="5.4" height="6.3" fill="#22a085"/>
<rect x="1127" y="220.0" width="1" height="6.2" fill="#1a7a68"/>
<rect x="1124" y="220.0" width="7" height="6.2" fill="#17806b"/>
<rect x="1124.8" y="220.7" width="5.4" height="4.8" fill="#22a085"/>
<rect x="1136" y="215.0" width="1" height="8.7" fill="#1a7a68"/>
<rect x="1133" y="217.1" width="7" height="2.9" fill="#17806b"/>
<rect x="1133.8" y="217.8" width="5.4" height="1.5" fill="#22a085"/>
<rect x="1145" y="202.0" width="1" height="18.6" fill="#1a7a68"/>
<rect x="1142" y="205.5" width="7" height="13.5" fill="#17806b"/>
<rect x="1142.8" y="206.2" width="5.4" height="12.1" fill="#22a085"/>
<rect x="1154" y="201.0" width="1" height="8.7" fill="#a8323f"/>
<rect x="1151" y="203.0" width="7" height="5.6" fill="#c0384a"/>
<rect x="1151.8" y="203.7" width="5.4" height="4.2" fill="#e9384c"/>
<rect x="1163" y="208.2" width="1" height="4.4" fill="#a8323f"/>
<rect x="1160" y="210.3" width="7" height="2.3" fill="#c0384a"/>
<rect x="1160.8" y="211.0" width="5.4" height="0.9" fill="#e9384c"/>
<rect x="1172" y="205.5" width="1" height="5.0" fill="#1a7a68"/>
<rect x="1169" y="208.8" width="7" height="1.7" fill="#17806b"/>
<rect x="1182" y="202.0" width="1" height="7.7" fill="#a8323f"/>
<rect x="1179" y="207.8" width="7" height="1.0" fill="#c0384a"/>
<rect x="1191" y="201.0" width="1" height="10.7" fill="#a8323f"/>
<rect x="1188" y="203.0" width="7" height="7.7" fill="#c0384a"/>
<rect x="1188.8" y="203.7" width="5.4" height="6.3" fill="#e9384c"/>
<rect x="1200" y="204.0" width="1" height="4.6" fill="#a8323f"/>
<rect x="1197" y="207.6" width="7" height="1.0" fill="#c0384a"/>
<rect x="1209" y="206.1" width="1" height="5.2" fill="#a8323f"/>
<rect x="1206" y="206.1" width="7" height="5.2" fill="#c0384a"/>
<rect x="1206.8" y="206.8" width="5.4" height="3.8" fill="#e9384c"/>
<rect x="1218" y="188.2" width="1" height="20.2" fill="#a8323f"/>
<rect x="1215" y="205.5" width="7" height="2.9" fill="#c0384a"/>
<rect x="1215.8" y="206.2" width="5.4" height="1.5" fill="#e9384c"/>
<rect x="1228" y="201.0" width="1" height="11.6" fill="#a8323f"/>
<rect x="1225" y="203.0" width="7" height="9.6" fill="#c0384a"/>
<rect x="1225.8" y="203.7" width="5.4" height="8.2" fill="#e9384c"/>
<rect x="1237" y="209.2" width="1" height="8.7" fill="#a8323f"/>
<rect x="1234" y="210.3" width="7" height="6.6" fill="#c0384a"/>
<rect x="1234.8" y="211.0" width="5.4" height="5.2" fill="#e9384c"/>
<rect x="1246" y="212.3" width="1" height="7.7" fill="#1a7a68"/>
<rect x="1243" y="216.0" width="7" height="3.0" fill="#17806b"/>
<rect x="1243.8" y="216.7" width="5.4" height="1.6" fill="#22a085"/>
<rect x="1255" y="215.0" width="1" height="8.3" fill="#a8323f"/>
<rect x="1252" y="215.0" width="7" height="8.3" fill="#c0384a"/>
<rect x="1252.8" y="215.7" width="5.4" height="6.9" fill="#e9384c"/>
<rect x="1264" y="202.0" width="1" height="20.0" fill="#1a7a68"/>
<rect x="1261" y="204.7" width="7" height="17.3" fill="#17806b"/>
<rect x="1261.8" y="205.4" width="5.4" height="15.9" fill="#22a085"/>
<rect x="1273" y="202.0" width="1" height="9.3" fill="#1a7a68"/>
<rect x="1270" y="206.1" width="7" height="5.2" fill="#17806b"/>
<rect x="1270.8" y="206.8" width="5.4" height="3.8" fill="#22a085"/>
<rect x="1283" y="203.0" width="1" height="5.6" fill="#a8323f"/>
<rect x="1280" y="203.0" width="7" height="2.7" fill="#c0384a"/>
<rect x="1280.8" y="203.7" width="5.4" height="1.3" fill="#e9384c"/>
<rect x="1292" y="197.5" width="1" height="8.6" fill="#a8323f"/>
<rect x="1289" y="203.0" width="7" height="3.1" fill="#c0384a"/>
<rect x="1289.8" y="203.7" width="5.4" height="1.7" fill="#e9384c"/>
</g>
<rect x="1300.3" y="175" width="4.8" height="19.0" fill="#e01010"/>
<rect x="1309.1" y="152.2" width="4.8" height="21.6" fill="#e01010"/>
<rect x="1320.8" y="119.9" width="4.8" height="36.6" fill="#e01010"/>
<g stroke="#8a8d96" stroke-width="1" stroke-dasharray="5.5 5.5">
<line x1="65" y1="225.5" x2="1388" y2="225.5"/>
<line x1="961.5" y1="43" x2="961.5" y2="407"/>
</g>
<polygon points="66.2,361.4 71.4,361.2 71.4,357.3 66.2,356.6" fill="#ce93d8" fill-opacity="0.3"/>
<polygon points="71.4,361.2 80.6,359.7 80.6,358.1 71.4,357.3" fill="#ce93d8" fill-opacity="0.3"/>
<polygon points="80.6,359.7 89.8,349.8 89.8,355.2 80.6,358.1" fill="#64b5f6" fill-opacity="0.3"/>
<polygon points="89.8,349.8 98.9,348.0 98.9,352.9 89.8,355.2" fill="#64b5f6" fill-opacity="0.3"/>
<polygon points="98.9,348.0 108.1,350.4 108.1,352.1 98.9,352.9" fill="#64b5f6" fill-opacity="0.3"/>
<polygon points="108.1,350.4 117.3,354.0 117.3,352.9 108.1,352.1" fill="#64b5f6" fill-opacity="0.3"/>
<polygon points="117.3,354.0 126.5,355.2 126.5,354.0 117.3,352.9" fill="#ce93d8" fill-opacity="0.3"/>
<polygon points="126.5,355.2 135.7,350.9 135.7,352.5 126.5,354.0" fill="#64b5f6" fill-opacity="0.3"/>
<polygon points="135.7,350.9 144.8,354.0 144.8,353.1 135.7,352.5" fill="#64b5f6" fill-opacity="0.3"/>
<polygon points="144.8,354.0 154.0,358.3 154.0,355.2 144.8,353.1" fill="#ce93d8" fill-opacity="0.3"/>
<polygon points="154.0,358.3 163.2,362.8 163.2,358.1 154.0,355.2" fill="#ce93d8" fill-opacity="0.3"/>
<polygon points="163.2,362.8 172.4,367.6 172.4,361.2 163.2,358.1" fill="#ce93d8" fill-opacity="0.3"/>
<polygon points="172.4,367.6 181.6,363.9 181.6,361.8 172.4,361.2" fill="#ce93d8" fill-opacity="0.3"/>
<polygon points="181.6,363.9 190.7,357.7 190.7,360.4 181.6,361.8" fill="#64b5f6" fill-opacity="0.3"/>
<polygon points="190.7,357.7 199.9,360.4 199.9,360.4 190.7,360.4" fill="#64b5f6" fill-opacity="0.3"/>
<polygon points="199.9,360.4 209.1,364.5 209.1,361.8 199.9,360.4" fill="#ce93d8" fill-opacity="0.3"/>
<polygon points="209.1,364.5 218.3,368.0 218.3,363.9 209.1,361.8" fill="#ce93d8" fill-opacity="0.3"/>
<polygon points="218.3,368.0 227.5,372.5 227.5,366.6 218.3,363.9" fill="#ce93d8" fill-opacity="0.3"/>
<polygon points="227.5,372.5 236.6,371.5 236.6,368.6 227.5,366.6" fill="#ce93d8" fill-opacity="0.3"/>
<polygon points="236.6,371.5 245.8,360.4 245.8,365.9 236.6,368.6" fill="#64b5f6" fill-opacity="0.3"/>
<polygon points="245.8,360.4 255.0,350.0 255.0,360.8 245.8,365.9" fill="#64b5f6" fill-opacity="0.3"/>
<polygon points="255.0,350.0 264.2,342.8 264.2,355.0 255.0,360.8" fill="#64b5f6" fill-opacity="0.3"/>
<polygon points="264.2,342.8 273.4,338.1 273.4,349.8 264.2,355.0" fill="#64b5f6" fill-opacity="0.3"/>
<polygon points="273.4,338.1 282.5,341.1 282.5,346.9 273.4,349.8" fill="#64b5f6" fill-opacity="0.3"/>
<polygon points="282.5,341.1 291.7,343.2 291.7,345.3 282.5,346.9" fill="#64b5f6" fill-opacity="0.3"/>
<polygon points="291.7,343.2 300.9,347.3 300.9,346.3 291.7,345.3" fill="#64b5f6" fill-opacity="0.3"/>
<polygon points="300.9,347.3 310.1,348.8 310.1,347.3 300.9,346.3" fill="#ce93d8" fill-opacity="0.3"/>
<polygon points="310.1,348.8 319.3,349.8 319.3,348.0 310.1,347.3" fill="#ce93d8" fill-opacity="0.3"/>
<polygon points="319.3,349.8 328.4,354.6 328.4,350.0 319.3,348.0" fill="#ce93d8" fill-opacity="0.3"/>
<polygon points="328.4,354.6 337.6,362.4 337.6,355.2 328.4,350.0" fill="#ce93d8" fill-opacity="0.3"/>
<polygon points="337.6,362.4 346.8,368.0 346.8,359.3 337.6,355.2" fill="#ce93d8" fill-opacity="0.3"/>
<polygon points="346.8,368.0 356.0,367.4 356.0,362.2 346.8,359.3" fill="#ce93d8" fill-opacity="0.3"/>
<polygon points="356.0,367.4 365.2,370.1 365.2,364.9 356.0,362.2" fill="#ce93d8" fill-opacity="0.3"/>
<polygon points="365.2,370.1 374.3,364.9 374.3,364.9 365.2,364.9" fill="#ce93d8" fill-opacity="0.3"/>
<polygon points="374.3,364.9 383.5,370.7 383.5,366.6 374.3,364.9" fill="#ce93d8" fill-opacity="0.3"/>
<polygon points="383.5,370.7 392.7,373.2 392.7,369.0 383.5,366.6" fill="#ce93d8" fill-opacity="0.3"/>
<polygon points="392.7,373.2 401.9,365.9 401.9,367.6 392.7,369.0" fill="#ce93d8" fill-opacity="0.3"/>
<polygon points="401.9,365.9 411.1,365.3 411.1,366.6 401.9,367.6" fill="#64b5f6" fill-opacity="0.3"/>
<polygon points="411.1,365.3 420.2,370.1 420.2,368.0 411.1,366.6" fill="#ce93d8" fill-opacity="0.3"/>
<polygon points="420.2,370.1 429.4,374.8 429.4,370.1 420.2,368.0" fill="#ce93d8" fill-opacity="0.3"/>
<polygon points="429.4,374.8 438.6,377.3 438.6,372.5 429.4,370.1" fill="#ce93d8" fill-opacity="0.3"/>
<polygon points="438.6,377.3 447.8,377.9 447.8,374.6 438.6,372.5" fill="#ce93d8" fill-opacity="0.3"/>
<polygon points="447.8,377.9 457.0,377.7 457.0,375.6 447.8,374.6" fill="#ce93d8" fill-opacity="0.3"/>
<polygon points="457.0,377.7 466.1,377.3 466.1,376.3 457.0,375.6" fill="#ce93d8" fill-opacity="0.3"/>
<polygon points="466.1,377.3 475.3,376.9 475.3,376.7 466.1,376.3" fill="#ce93d8" fill-opacity="0.3"/>
<polygon points="475.3,376.9 484.5,373.8 484.5,375.6 475.3,376.7" fill="#64b5f6" fill-opacity="0.3"/>
<polygon points="484.5,373.8 493.7,372.1 493.7,374.6 484.5,375.6" fill="#64b5f6" fill-opacity="0.3"/>
<polygon points="493.7,372.1 502.9,371.5 502.9,373.6 493.7,374.6" fill="#64b5f6" fill-opacity="0.3"/>
<polygon points="502.9,371.5 512.0,368.0 512.0,371.5 502.9,373.6" fill="#64b5f6" fill-opacity="0.3"/>
<polygon points="512.0,368.0 521.2,368.6 521.2,370.7 512.0,371.5" fill="#64b5f6" fill-opacity="0.3"/>
<polygon points="521.2,368.6 530.4,374.2 530.4,372.1 521.2,370.7" fill="#ce93d8" fill-opacity="0.3"/>
<polygon points="530.4,374.2 539.6,377.3 539.6,374.2 530.4,372.1" fill="#ce93d8" fill-opacity="0.3"/>
<polygon points="539.6,377.3 548.8,380.0 548.8,376.3 539.6,374.2" fill="#ce93d8" fill-opacity="0.3"/>
<polygon points="548.8,380.0 557.9,382.9 557.9,378.3 548.8,376.3" fill="#ce93d8" fill-opacity="0.3"/>
<polygon points="557.9,382.9 567.1,383.5 567.1,380.0 557.9,378.3" fill="#ce93d8" fill-opacity="0.3"/>
<polygon points="567.1,383.5 576.3,384.5 576.3,381.8 567.1,380.0" fill="#ce93d8" fill-opacity="0.3"/>
<polygon points="576.3,384.5 585.5,384.5 585.5,382.9 576.3,381.8" fill="#ce93d8" fill-opacity="0.3"/>
<polygon points="585.5,384.5 594.7,383.5 594.7,383.1 585.5,382.9" fill="#ce93d8" fill-opacity="0.3"/>
<polygon points="594.7,383.5 603.8,380.8 603.8,381.8 594.7,383.1" fill="#64b5f6" fill-opacity="0.3"/>
<polygon points="603.8,380.8 613.0,382.5 613.0,382.5 603.8,381.8" fill="#64b5f6" fill-opacity="0.3"/>
<polygon points="613.0,382.5 622.2,383.9 622.2,383.1 613.0,382.5" fill="#ce93d8" fill-opacity="0.3"/>
<polygon points="622.2,383.9 631.4,384.5 631.4,383.5 622.2,383.1" fill="#ce93d8" fill-opacity="0.3"/>
<polygon points="631.4,384.5 640.6,381.4 640.6,382.5 631.4,383.5" fill="#ce93d8" fill-opacity="0.3"/>
<polygon points="640.6,381.4 649.7,378.7 649.7,381.0 640.6,382.5" fill="#64b5f6" fill-opacity="0.3"/>
<polygon points="649.7,378.7 658.9,376.3 658.9,379.4 649.7,381.0" fill="#64b5f6" fill-opacity="0.3"/>
<polygon points="658.9,376.3 668.1,374.8 668.1,378.3 658.9,379.4" fill="#64b5f6" fill-opacity="0.3"/>
<polygon points="668.1,374.8 677.3,380.4 677.3,379.8 668.1,378.3" fill="#64b5f6" fill-opacity="0.3"/>
<polygon points="677.3,380.4 686.5,376.7 686.5,378.3 677.3,379.8" fill="#64b5f6" fill-opacity="0.3"/>
<polygon points="686.5,376.7 695.6,371.5 695.6,375.6 686.5,378.3" fill="#64b5f6" fill-opacity="0.3"/>
<polygon points="695.6,371.5 704.8,369.0 704.8,373.6 695.6,375.6" fill="#64b5f6" fill-opacity="0.3"/>
<polygon points="704.8,369.0 714.0,359.1 714.0,369.0 704.8,373.6" fill="#64b5f6" fill-opacity="0.3"/>
<polygon points="714.0,359.1 723.2,356.6 723.2,364.9 714.0,369.0" fill="#64b5f6" fill-opacity="0.3"/>
<polygon points="723.2,356.6 732.4,355.0 732.4,361.8 723.2,364.9" fill="#64b5f6" fill-opacity="0.3"/>
<polygon points="732.4,355.0 741.5,350.4 741.5,358.1 732.4,361.8" fill="#64b5f6" fill-opacity="0.3"/>
<polygon points="741.5,350.4 750.7,348.4 750.7,355.0 741.5,358.1" fill="#64b5f6" fill-opacity="0.3"/>
<polygon points="750.7,348.4 759.9,344.7 759.9,351.5 750.7,355.0" fill="#64b5f6" fill-opacity="0.3"/>
<polygon points="759.9,344.7 769.1,346.3 769.1,349.8 759.9,351.5" fill="#64b5f6" fill-opacity="0.3"/>
<polygon points="769.1,346.3 778.3,347.8 778.3,349.0 769.1,349.8" fill="#64b5f6" fill-opacity="0.3"/>
<polygon points="778.3,347.8 787.4,348.0 787.4,348.4 778.3,349.0" fill="#64b5f6" fill-opacity="0.3"/>
<polygon points="787.4,348.0 796.6,352.1 796.6,349.4 787.4,348.4" fill="#ce93d8" fill-opacity="0.3"/>
<polygon points="796.6,352.1 805.8,363.9 805.8,354.2 796.6,349.4" fill="#ce93d8" fill-opacity="0.3"/>
<polygon points="805.8,363.9 815.0,359.7 815.0,356.0 805.8,354.2" fill="#ce93d8" fill-opacity="0.3"/>
<polygon points="815.0,359.7 824.2,355.6 824.2,356.0 815.0,356.0" fill="#ce93d8" fill-opacity="0.3"/>
<polygon points="824.2,355.6 833.3,364.9 833.3,358.7 824.2,356.0" fill="#ce93d8" fill-opacity="0.3"/>
<polygon points="833.3,364.9 842.5,373.2 842.5,363.5 833.3,358.7" fill="#ce93d8" fill-opacity="0.3"/>
<polygon points="842.5,373.2 851.7,377.9 851.7,368.0 842.5,363.5" fill="#ce93d8" fill-opacity="0.3"/>
<polygon points="851.7,377.9 860.9,378.3 860.9,371.5 851.7,368.0" fill="#ce93d8" fill-opacity="0.3"/>
<polygon points="860.9,378.3 870.1,378.3 870.1,373.8 860.9,371.5" fill="#ce93d8" fill-opacity="0.3"/>
<polygon points="870.1,378.3 879.2,377.3 879.2,375.2 870.1,373.8" fill="#ce93d8" fill-opacity="0.3"/>
<polygon points="879.2,377.3 888.4,374.2 888.4,374.2 879.2,375.2" fill="#ce93d8" fill-opacity="0.3"/>
<polygon points="888.4,374.2 897.6,371.7 897.6,373.6 888.4,374.2" fill="#64b5f6" fill-opacity="0.3"/>
<polygon points="897.6,371.7 906.8,372.1 906.8,373.2 897.6,373.6" fill="#64b5f6" fill-opacity="0.3"/>
<polygon points="906.8,372.1 916.0,371.5 916.0,372.5 906.8,373.2" fill="#64b5f6" fill-opacity="0.3"/>
<polygon points="916.0,371.5 925.1,369.7 925.1,371.5 916.0,372.5" fill="#64b5f6" fill-opacity="0.3"/>
<polygon points="925.1,369.7 934.3,375.2 934.3,373.2 925.1,371.5" fill="#ce93d8" fill-opacity="0.3"/>
<polygon points="934.3,375.2 943.5,378.7 943.5,375.2 934.3,373.2" fill="#ce93d8" fill-opacity="0.3"/>
<polygon points="943.5,378.7 952.7,372.8 952.7,374.2 943.5,375.2" fill="#ce93d8" fill-opacity="0.3"/>
<polygon points="952.7,372.8 961.9,367.0 961.9,372.1 952.7,374.2" fill="#64b5f6" fill-opacity="0.3"/>
<polygon points="961.9,367.0 971.0,360.4 971.0,368.0 961.9,372.1" fill="#64b5f6" fill-opacity="0.3"/>
<polygon points="971.0,360.4 980.2,351.5 980.2,362.8 971.0,368.0" fill="#64b5f6" fill-opacity="0.3"/>
<polygon points="980.2,351.5 989.4,349.0 989.4,358.3 980.2,362.8" fill="#64b5f6" fill-opacity="0.3"/>
<polygon points="989.4,349.0 998.6,349.0 998.6,355.2 989.4,358.3" fill="#64b5f6" fill-opacity="0.3"/>
<polygon points="998.6,349.0 1007.8,345.3 1007.8,352.1 998.6,355.2" fill="#64b5f6" fill-opacity="0.3"/>
<polygon points="1007.8,345.3 1016.9,342.2 1016.9,349.0 1007.8,352.1" fill="#64b5f6" fill-opacity="0.3"/>
<polygon points="1016.9,342.2 1026.1,341.1 1026.1,346.3 1016.9,349.0" fill="#64b5f6" fill-opacity="0.3"/>
<polygon points="1026.1,341.1 1035.3,351.1 1035.3,348.0 1026.1,346.3" fill="#64b5f6" fill-opacity="0.3"/>
<polygon points="1035.3,351.1 1044.5,354.2 1044.5,350.0 1035.3,348.0" fill="#ce93d8" fill-opacity="0.3"/>
<polygon points="1044.5,354.2 1053.7,347.3 1053.7,349.0 1044.5,350.0" fill="#ce93d8" fill-opacity="0.3"/>
<polygon points="1053.7,347.3 1062.8,342.8 1062.8,346.9 1053.7,349.0" fill="#64b5f6" fill-opacity="0.3"/>
<polygon points="1062.8,342.8 1072.0,339.1 1072.0,344.2 1062.8,346.9" fill="#64b5f6" fill-opacity="0.3"/>
<polygon points="1072.0,339.1 1081.2,344.2 1081.2,344.2 1072.0,344.2" fill="#64b5f6" fill-opacity="0.3"/>
<polygon points="1081.2,344.2 1090.4,346.3 1090.4,344.9 1081.2,344.2" fill="#ce93d8" fill-opacity="0.3"/>
<polygon points="1090.4,346.3 1099.6,354.6 1099.6,348.4 1090.4,344.9" fill="#ce93d8" fill-opacity="0.3"/>
<polygon points="1099.6,354.6 1108.7,365.9 1108.7,354.2 1099.6,348.4" fill="#ce93d8" fill-opacity="0.3"/>
<polygon points="1108.7,365.9 1117.9,368.6 1117.9,359.1 1108.7,354.2" fill="#ce93d8" fill-opacity="0.3"/>
<polygon points="1117.9,368.6 1127.1,367.4 1127.1,361.8 1117.9,359.1" fill="#ce93d8" fill-opacity="0.3"/>
<polygon points="1127.1,367.4 1136.3,365.5 1136.3,363.3 1127.1,361.8" fill="#ce93d8" fill-opacity="0.3"/>
<polygon points="1136.3,365.5 1145.5,358.3 1145.5,361.4 1136.3,363.3" fill="#64b5f6" fill-opacity="0.3"/>
<polygon points="1145.5,358.3 1154.6,352.5 1154.6,358.3 1145.5,361.4" fill="#64b5f6" fill-opacity="0.3"/>
<polygon points="1154.6,352.5 1163.8,351.5 1163.8,356.0 1154.6,358.3" fill="#64b5f6" fill-opacity="0.3"/>
<polygon points="1163.8,351.5 1173.0,349.0 1173.0,353.5 1163.8,356.0" fill="#64b5f6" fill-opacity="0.3"/>
<polygon points="1173.0,349.0 1182.2,346.9 1182.2,351.5 1173.0,353.5" fill="#64b5f6" fill-opacity="0.3"/>
<polygon points="1182.2,346.9 1191.4,346.9 1191.4,349.8 1182.2,351.5" fill="#64b5f6" fill-opacity="0.3"/>
<polygon points="1191.4,346.9 1200.5,347.3 1200.5,348.8 1191.4,349.8" fill="#64b5f6" fill-opacity="0.3"/>
<polygon points="1200.5,347.3 1209.7,349.4 1209.7,349.0 1200.5,348.8" fill="#64b5f6" fill-opacity="0.3"/>
<polygon points="1209.7,349.4 1218.9,355.2 1218.9,350.0 1209.7,349.0" fill="#ce93d8" fill-opacity="0.3"/>
<polygon points="1218.9,355.2 1228.1,366.4 1228.1,355.2 1218.9,350.0" fill="#ce93d8" fill-opacity="0.3"/>
<polygon points="1228.1,366.4 1237.3,372.1 1237.3,360.8 1228.1,355.2" fill="#ce93d8" fill-opacity="0.3"/>
<polygon points="1237.3,372.1 1246.4,375.2 1246.4,365.9 1237.3,360.8" fill="#ce93d8" fill-opacity="0.3"/>
<polygon points="1246.4,375.2 1255.6,379.4 1255.6,371.1 1246.4,365.9" fill="#ce93d8" fill-opacity="0.3"/>
<polygon points="1255.6,379.4 1264.8,372.8 1264.8,371.5 1255.6,371.1" fill="#ce93d8" fill-opacity="0.3"/>
<polygon points="1264.8,372.8 1274.0,368.6 1274.0,370.1 1264.8,371.5" fill="#64b5f6" fill-opacity="0.3"/>
<polygon points="1274.0,368.6 1283.2,365.3 1283.2,368.4 1274.0,370.1" fill="#64b5f6" fill-opacity="0.3"/>
<polygon points="1283.2,365.3 1292.3,363.3 1292.3,366.6 1283.2,368.4" fill="#64b5f6" fill-opacity="0.3"/>
<g stroke="#74767d" stroke-width="1" stroke-dasharray="5.5 5.5">
<line x1="65" y1="342.5" x2="1388" y2="342.5"/>
<line x1="65" y1="378.5" x2="1388" y2="378.5"/>
</g>
<polyline points="66.2,356.6 71.4,357.3 80.6,358.1 89.8,355.2 98.9,352.9 108.1,352.1 117.3,352.9 126.5,354.0 135.7,352.5 144.8,353.1 154.0,355.2 163.2,358.1 172.4,361.2 181.6,361.8 190.7,360.4 199.9,360.4 209.1,361.8 218.3,363.9 227.5,366.6 236.6,368.6 245.8,365.9 255.0,360.8 264.2,355.0 273.4,349.8 282.5,346.9 291.7,345.3 300.9,346.3 310.1,347.3 319.3,348.0 328.4,350.0 337.6,355.2 346.8,359.3 356.0,362.2 365.2,364.9 374.3,364.9 383.5,366.6 392.7,369.0 401.9,367.6 411.1,366.6 420.2,368.0 429.4,370.1 438.6,372.5 447.8,374.6 457.0,375.6 466.1,376.3 475.3,376.7 484.5,375.6 493.7,374.6 502.9,373.6 512.0,371.5 521.2,370.7 530.4,372.1 539.6,374.2 548.8,376.3 557.9,378.3 567.1,380.0 576.3,381.8 585.5,382.9 594.7,383.1 603.8,381.8 613.0,382.5 622.2,383.1 631.4,383.5 640.6,382.5 649.7,381.0 658.9,379.4 668.1,378.3 677.3,379.8 686.5,378.3 695.6,375.6 704.8,373.6 714.0,369.0 723.2,364.9 732.4,361.8 741.5,358.1 750.7,355.0 759.9,351.5 769.1,349.8 778.3,349.0 787.4,348.4 796.6,349.4 805.8,354.2 815.0,356.0 824.2,356.0 833.3,358.7 842.5,363.5 851.7,368.0 860.9,371.5 870.1,373.8 879.2,375.2 888.4,374.2 897.6,373.6 906.8,373.2 916.0,372.5 925.1,371.5 934.3,373.2 943.5,375.2 952.7,374.2 961.9,372.1 971.0,368.0 980.2,362.8 989.4,358.3 998.6,355.2 1007.8,352.1 1016.9,349.0 1026.1,346.3 1035.3,348.0 1044.5,350.0 1053.7,349.0 1062.8,346.9 1072.0,344.2 1081.2,344.2 1090.4,344.9 1099.6,348.4 1108.7,354.2 1117.9,359.1 1127.1,361.8 1136.3,363.3 1145.5,361.4 1154.6,358.3 1163.8,356.0 1173.0,353.5 1182.2,351.5 1191.4,349.8 1200.5,348.8 1209.7,349.0 1218.9,350.0 1228.1,355.2 1237.3,360.8 1246.4,365.9 1255.6,371.1 1264.8,371.5 1274.0,370.1 1283.2,368.4 1292.3,366.6" fill="none" stroke="#f0883a" stroke-width="1.1"/>
<polyline points="66.2,361.4 71.4,361.2 80.6,359.7 89.8,349.8 98.9,348.0 108.1,350.4 117.3,354.0 126.5,355.2 135.7,350.9 144.8,354.0 154.0,358.3 163.2,362.8 172.4,367.6 181.6,363.9 190.7,357.7 199.9,360.4 209.1,364.5 218.3,368.0 227.5,372.5 236.6,371.5 245.8,360.4 255.0,350.0 264.2,342.8 273.4,338.1 282.5,341.1 291.7,343.2 300.9,347.3 310.1,348.8 319.3,349.8 328.4,354.6 337.6,362.4 346.8,368.0 356.0,367.4 365.2,370.1 374.3,364.9 383.5,370.7 392.7,373.2 401.9,365.9 411.1,365.3 420.2,370.1 429.4,374.8 438.6,377.3 447.8,377.9 457.0,377.7 466.1,377.3 475.3,376.9 484.5,373.8 493.7,372.1 502.9,371.5 512.0,368.0 521.2,368.6 530.4,374.2 539.6,377.3 548.8,380.0 557.9,382.9 567.1,383.5 576.3,384.5 585.5,384.5 594.7,383.5 603.8,380.8 613.0,382.5 622.2,383.9 631.4,384.5 640.6,381.4 649.7,378.7 658.9,376.3 668.1,374.8 677.3,380.4 686.5,376.7 695.6,371.5 704.8,369.0 714.0,359.1 723.2,356.6 732.4,355.0 741.5,350.4 750.7,348.4 759.9,344.7 769.1,346.3 778.3,347.8 787.4,348.0 796.6,352.1 805.8,363.9 815.0,359.7 824.2,355.6 833.3,364.9 842.5,373.2 851.7,377.9 860.9,378.3 870.1,378.3 879.2,377.3 888.4,374.2 897.6,371.7 906.8,372.1 916.0,371.5 925.1,369.7 934.3,375.2 943.5,378.7 952.7,372.8 961.9,367.0 971.0,360.4 980.2,351.5 989.4,349.0 998.6,349.0 1007.8,345.3 1016.9,342.2 1026.1,341.1 1035.3,351.1 1044.5,354.2 1053.7,347.3 1062.8,342.8 1072.0,339.1 1081.2,344.2 1090.4,346.3 1099.6,354.6 1108.7,365.9 1117.9,368.6 1127.1,367.4 1136.3,365.5 1145.5,358.3 1154.6,352.5 1163.8,351.5 1173.0,349.0 1182.2,346.9 1191.4,346.9 1200.5,347.3 1209.7,349.4 1218.9,355.2 1228.1,366.4 1237.3,372.1 1246.4,375.2 1255.6,379.4 1264.8,372.8 1274.0,368.6 1283.2,365.3 1292.3,363.3" fill="none" stroke="#4a8fe0" stroke-width="1.1"/>
<polyline points="66.2,372.1 71.4,368.6 80.6,360.8 89.8,338.1 98.9,338.5 108.1,347.3 117.3,356.6 126.5,358.7 135.7,347.3 144.8,354.6 154.0,363.9 163.2,373.2 172.4,380.4 181.6,364.9 190.7,352.5 199.9,360.8 209.1,370.1 218.3,376.3 227.5,378.3 236.6,379.6 245.8,343.2 255.0,326.7 264.2,319.9 273.4,317.8 282.5,331.9 291.7,340.1 300.9,352.1 310.1,353.5 319.3,353.5 328.4,364.9 337.6,379.0 346.8,386.2 356.0,379.0 365.2,381.0 374.3,364.5 383.5,379.8 392.7,382.5 401.9,360.8 411.1,362.4 420.2,373.2 429.4,383.5 438.6,386.0 447.8,384.5 457.0,380.8 466.1,379.8 475.3,378.7 484.5,371.7 493.7,368.6 502.9,368.0 512.0,361.8 521.2,364.9 530.4,380.0 539.6,384.5 548.8,388.2 557.9,391.3 567.1,390.1 576.3,390.1 585.5,388.7 594.7,384.5 603.8,379.8 613.0,383.1 622.2,385.1 631.4,385.1 640.6,378.7 649.7,374.8 658.9,370.7 668.1,369.0 677.3,381.0 686.5,374.2 695.6,362.4 704.8,360.2 714.0,339.5 723.2,340.7 732.4,342.4 741.5,335.6 750.7,336.4 759.9,331.2 769.1,340.1 778.3,347.3 787.4,347.8 796.6,356.6 805.8,381.4 815.0,365.5 824.2,354.6 833.3,377.3 842.5,391.1 851.7,396.5 860.9,391.3 870.1,386.6 879.2,381.4 888.4,373.2 897.6,368.6 906.8,371.1 916.0,369.4 925.1,366.4 934.3,380.8 943.5,385.6 952.7,370.7 961.9,359.7 971.0,345.3 980.2,328.8 989.4,330.8 998.6,337.0 1007.8,332.3 1016.9,329.4 1026.1,331.2 1035.3,358.3 1044.5,362.4 1053.7,344.2 1062.8,335.0 1072.0,329.4 1081.2,344.9 1090.4,350.4 1099.6,368.0 1108.7,389.3 1117.9,387.2 1127.1,378.3 1136.3,369.7 1145.5,351.5 1154.6,341.1 1163.8,342.6 1173.0,339.1 1182.2,338.1 1191.4,340.7 1200.5,343.2 1209.7,351.5 1218.9,364.9 1228.1,386.2 1237.3,394.9 1246.4,394.2 1255.6,398.0 1264.8,373.2 1274.0,363.9 1283.2,357.7 1292.3,355.6" fill="none" stroke="#111" stroke-width="1.2" stroke-linejoin="round"/>
<g font-size="12" font-weight="bold" text-anchor="middle">
<path d="M430 290 L438.6 284.8 L447.2 290 V301 a2.2 2.2 0 0 1 -2.2 2.2 H432.2 a2.2 2.2 0 0 1 -2.2 -2.2 Z" fill="#fdfefe" stroke="#1b8a78" stroke-width="1.8" stroke-linejoin="round"/>
<text x="438.6" y="298.9" fill="#1b8a78">E</text>
<path d="M998.8 287 a2.2 2.2 0 0 1 2.2 -2.2 H1013.9 a2.2 2.2 0 0 1 2.2 2.2 V297.5 L1007.4 302.8 L998.8 297.5 Z" fill="#fffdfd" stroke="#bf3a46" stroke-width="1.8" stroke-linejoin="round"/>
<text x="1007.4" y="298.9" fill="#bf3a46">E</text>
</g>
<circle cx="1292.5" cy="294.2" r="9.6" fill="#fff" stroke="#84309a" stroke-width="1.5"/>
<path d="M1295.6 288.2 L1288.2 295 L1292.2 295.4 L1289.6 300.2 L1297 293.4 L1293 293 Z" fill="#84309a"/>
<g class="ax" text-anchor="end">
<text x="57" y="85.7">56.0</text>
<text x="57" y="119.7">52.0</text>
<text x="57" y="153.5">48.00</text>
<text x="57" y="187.9">44.00</text>
<text x="57" y="256.5">36.00</text>
<text x="57" y="291.3">32.00</text>
</g>
<rect x="22.3" y="235" width="42.5" height="9.6" fill="#2962ff"/>
<text x="41.2" y="243.2" font-size="12" font-weight="bold" fill="#fff" text-anchor="middle">41.50</text>
<rect x="22.3" y="197.2" width="42.5" height="17.8" fill="#f23645"/>
<text x="41.2" y="210.2" font-size="12" font-weight="bold" fill="#fff" text-anchor="middle">41.55</text>
<rect x="22.3" y="214.8" width="42.5" height="20.5" fill="#131722"/>
<text x="41.2" y="229.9" font-size="12" font-weight="bold" fill="#fff" text-anchor="middle">39.25</text>
<path d="M66.1 215.2h17.2a3.5 3.5 0 0 1 3.5 3.5v13.5a3.5 3.5 0 0 1-3.5 3.5h-17.2z" fill="#131722"/>
<circle cx="76.6" cy="225.6" r="7.4" fill="none" stroke="#fff" stroke-width="1.2"/>
<path d="M73.1 225.6h7M76.6 222.1v7" stroke="#fff" stroke-width="1.3" fill="none"/>
<rect x="13.5" y="291" width="51.5" height="16" fill="#ef5350"/>
<text x="18.6" y="303.3" font-size="12" font-weight="bold" fill="#fff" textLength="38" lengthAdjust="spacingAndGlyphs">11.08M</text>
<text x="1396.5" y="335.2" class="ax">100.0</text>
<text x="1396.5" y="394.5" class="ax">0.00</text>
<rect x="1388.5" y="338" width="36" height="17.3" fill="#000"/>
<rect x="1388.5" y="355.2" width="36" height="17" fill="#2e8be6"/>
<rect x="1388.5" y="372.1" width="36" height="16.7" fill="#f57c1a"/>
<g font-size="12" font-weight="bold" fill="#fff">
<text x="1396.5" y="351">56.4</text>
<text x="1396.5" y="368">44.02</text>
<text x="1396.5" y="384.8">37.81</text>
</g>
<g class="ax" text-anchor="middle">
<text x="80.1" y="425">14</text>
<text x="181.1" y="425">七月</text>
<text x="272.9" y="425">17</text>
<text x="373.8" y="425">八月</text>
<text x="493.2" y="425">21</text>
<text x="575.8" y="425">九月</text>
<text x="676.8" y="425">18</text>
<text x="759.4" y="425">十月</text>
<text x="842.0" y="425">17</text>
<text x="1062.3" y="425">20</text>
<text x="1145.0" y="425">十二月</text>
<text x="1245.9" y="425">18</text>
<text x="1337.7" y="425">2024</text>
</g>
<rect x="909" y="407" width="104.8" height="23.6" rx="2" fill="#131722"/>
<text x="961.3" y="425" font-size="12" font-weight="bold" fill="#fff" text-anchor="middle">週五 2023-11-03</text>
<rect x="9" y="435" width="1415" height="1" fill="#e0e3eb"/>
<circle cx="37" cy="421.5" r="9.2" fill="#eff0f4"/>
<text x="37" y="425" font-size="10" fill="#50535e" text-anchor="middle">Z</text>
<circle cx="1415" cy="421.5" r="9.2" fill="#eff0f4"/>
<text x="1415" y="425" font-size="10" fill="#50535e" text-anchor="middle">A</text>
<g class="tb">
<text x="24" y="461">1天</text>
<text x="57" y="461">5天</text>
<text x="90.6" y="461">1月</text>
<text x="123.6" y="461">3月</text>
<text x="156.8" y="461">6月</text>
<text x="189.8" y="461" textLength="24" lengthAdjust="spacingAndGlyphs">YTD</text>
<text x="227" y="461">1年</text>
<text x="260.7" y="461">5年</text>
<text x="293.5" y="461">全部</text>
<text x="1279.3" y="460.6" textLength="107.5" lengthAdjust="spacingAndGlyphs">14:24:54 (UTC+8)</text>
<text x="1409" y="461">ADJ</text>
</g>
<rect x="331" y="445" width="1" height="22" fill="#e0e3eb"/>
<rect x="1398" y="445" width="1" height="22" fill="#e0e3eb"/>
<g class="ic" stroke-width="1.3"><path d="M346.8 453.2V449.6a2 2 0 0 1 2-2H361.4a2 2 0 0 1 2 2V460.6a2 2 0 0 1-2 2H355"/><path d="M346.8 453.2H363.4M351.3 445v2.6M358.6 445v2.6"/><path d="M345.2 459.5H352.3M349.6 456.6l2.9 2.9-2.9 2.9"/></g>
<rect x="13.5" y="47.5" width="47" height="25" rx="4" fill="#fff" stroke="#e0e3eb"/>
<text x="17.9" y="64" font-size="11.6" fill="#131722">TWD</text>
<path d="M51.2 58.6l2.4 2.4 2.4-2.4" class="ic" stroke-width="1.5"/>
<circle cx="82.5" cy="59.8" r="8.2" fill="#e0e3eb"/>
<text x="82.5" y="63.8" font-size="11" font-weight="bold" fill="#fff" text-anchor="middle">3</text>
<text x="96.5" y="65" font-size="14.5" fill="#131722">神達 · 1天 · TWSE</text>
<path d="M240.4 50.2h11v18.4h-11a9.2 9.2 0 0 1 0-18.4z" fill="#d8efeb"/>
<path d="M251.4 50.2h10.4a9.2 9.2 0 0 1 0 18.4h-10.4z" fill="#fde6c8"/>
<circle cx="241.8" cy="59.4" r="3.8" fill="#089981"/>
<text x="259.7" y="64" font-size="12.5" fill="#f7931a" text-anchor="middle">D</text>
<g font-size="12.5">
<text x="287.6" y="65.3" fill="#131722">開=</text><text x="307.9" y="65.3" fill="#d04a5a">38.30</text>
<text x="346.9" y="65.3" fill="#131722">高=</text><text x="366.4" y="65.3" fill="#d04a5a">38.65</text>
<text x="405.8" y="65.3" fill="#131722">低=</text><text x="425.7" y="65.3" fill="#d04a5a">38.00</text>
<text x="464.3" y="65.3" fill="#131722">收=</text><text x="484.6" y="65.3" fill="#d04a5a">38.10</text>
<text x="522.8" y="65.3" fill="#d04a5a">+0.20</text><text x="558.9" y="65.3" fill="#d04a5a" textLength="48.2" lengthAdjust="spacingAndGlyphs">(+0.53%)</text>
</g>
<rect x="73.5" y="75.5" width="46.5" height="23" rx="4" fill="#fff" stroke="#c8505e"/>
<text x="96.8" y="91.5" font-size="12.5" fill="#c8505e" text-anchor="middle">41.55</text>
<text x="139.5" y="91" font-size="11" fill="#131722" text-anchor="middle">0.05</text>
<rect x="158.5" y="75.5" width="47" height="23" rx="4" fill="#fff" stroke="#4668ad"/>
<text x="182" y="91.5" font-size="12.5" fill="#4668ad" text-anchor="middle">41.60</text>
<rect x="74.5" y="105.5" width="31" height="20" rx="3" fill="#fff" stroke="#e0e3eb"/>
<path d="M81.5 114l3 3 3-3" class="ic" stroke-width="1.5"/>
<text x="97" y="120" font-size="12" fill="#131722" text-anchor="middle">2</text>
<g fill="#fff" stroke="#f5f6f8" stroke-width="1">
<rect x="1304.5" y="48" width="23.2" height="22" rx="3"/>
<rect x="1332" y="48" width="23.2" height="22" rx="3"/>
<rect x="1359.8" y="48" width="23.2" height="22" rx="3"/>
</g>
<g fill="none" stroke="#eaecef" stroke-width="1.2" stroke-linecap="round" stroke-linejoin="round">
<path d="M1316.4 54.5v9.5M1312.6 60.5l3.8 3.8 3.8-3.8"/>
<path d="M1340.6 53.5l3.5 3.2 3.5-3.2M1340.6 65l3.5-3.2 3.5 3.2"/>
<rect x="1367.3" y="54" width="10.4" height="10.8" rx="2.4"/>
</g>
<g stroke="#fff" stroke-width="3.5" stroke-linejoin="round" paint-order="stroke" fill="#131722">
<path d="M77.3 378.3H90.9V392.8H83.3V384H77.3Z"/><circle cx="94.3" cy="381" r="2.6"/><path d="M98.6 378.3H106.8L100.9 392.8H92.8Z"/>
<text x="114" y="392.8" font-size="20.3" font-weight="bold" stroke-width="3.5" textLength="120.5">TradingView</text>
</g>
<g class="ic" stroke-width="1.9"><circle cx="23.2" cy="19.2" r="5.3"/><path d="M27.2 23.2l3.4 3.3"/></g>
<text x="36.3" y="25" font-size="13.6" font-weight="bold" fill="#131722" textLength="30.8">3706</text>
<g class="ic"><circle cx="123.4" cy="20.4" r="9"/><path d="M119 20.4h8.8M123.4 16v8.8"/></g>
<rect x="147.5" y="9" width="1" height="22" fill="#e0e3eb"/>
<rect x="193.2" y="9" width="1" height="22" fill="#e0e3eb"/>
<rect x="240.0" y="9" width="1" height="22" fill="#e0e3eb"/>
<rect x="387.9" y="9" width="1" height="22" fill="#e0e3eb"/>
<rect x="542.8" y="9" width="1" height="22" fill="#e0e3eb"/>
<text x="170.9" y="25.4" class="tb" font-size="13.4" text-anchor="middle">天</text>
<g class="ic"><rect x="211.4" y="13.2" width="4.2" height="13"/><path d="M213.5 10v3.2M213.5 26.2v3.4"/><rect x="219.7" y="16.3" width="4" height="7.1"/><path d="M221.7 13.3v3M221.7 23.4v3"/></g>
<g class="ic"><path d="M255.8 17.3L261.9 12.6L266 15.9L273.1 10.6"/><path d="M256.2 28.1H272.7V18.7H267V21.4H261.9V24H256.2ZM261.9 24V28.1M267 21.4V28.1"/></g>
<text x="280.2" y="25.3" class="tb" font-size="13.6">技術指標</text>
<g class="ic"><rect x="357.6" y="13" width="5.8" height="5.8" rx="1.3"/><rect x="366.8" y="13" width="5.8" height="5.8" rx="1.3"/><rect x="357.6" y="21.6" width="5.8" height="5.8" rx="1.3"/><rect x="366.8" y="21.6" width="5.8" height="5.8" rx="1.3"/></g>
<g class="ic"><path d="M419.6 21.5A8.2 8.2 0 1 0 411.8 28.2"/><path d="M403.6 15.2a3.4 3.4 0 0 1 5-4.2M414.6 11a3.4 3.4 0 0 1 5 4.2"/><path d="M411.6 15.8v4.2h-3.2"/><path d="M413.6 26.5h8M417.6 22.5v8"/></g>
<text x="428.6" y="25.3" class="tb" font-size="13.6">快訊</text>
<g class="ic"><path d="M484.6 16l-5.6 4.7 5.6 4.7zM492.6 16l-5.6 4.7 5.6 4.7z"/></g>
<text x="501.2" y="25.3" class="tb" font-size="13.6">重播</text>
<g class="ic" stroke-width="1.4"><path d="M564.5 15.5l-4.2 4 4.2 4"/><path d="M560.6 19.5h8a4.8 4.8 0 0 1 4.8 4.8v1"/></g>
<g class="ic" style="stroke:#c8cbd3" stroke-width="1.4"><path d="M606.5 15.5l4.2 4-4.2 4"/><path d="M610.4 19.5h-8a4.8 4.8 0 0 0-4.8 4.8v1"/></g>
</svg></body></html>
